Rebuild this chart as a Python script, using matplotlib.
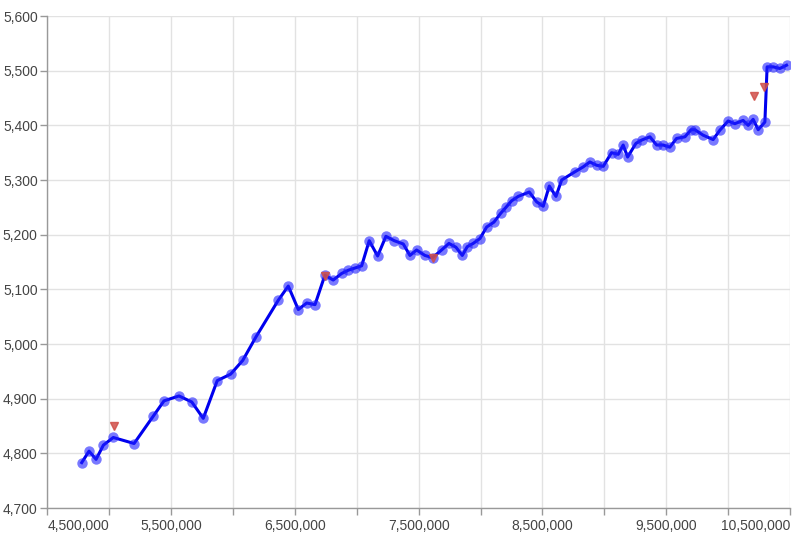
import matplotlib.pyplot as plt
from matplotlib.ticker import FuncFormatter, MultipleLocator

# データ
x_values = [
    4777000, 4836000, 4893000, 4952000, 5032000, 5200000, 5355000, 5442000,
    5563000, 5666000, 5759000, 5872000, 5981000, 6078000, 6185000, 6365000,
    6446000, 6527000, 6595000, 6662000, 6742000, 6809000, 6877000, 6931000,
    6985000, 7039000, 7100000, 7168000, 7235000, 7302000, 7375000, 7429000,
    7483000, 7550000, 7612000, 7685000, 7744000, 7801000, 7852000, 7892000,
    7940000, 7995000, 8049000, 8108000, 8162000, 8205000, 8251000, 8304000,
    8393000, 8453000, 8506000, 8555000, 8609000, 8655000, 8762000, 8829000,
    8883000, 8937000, 8991000, 9058000, 9112000, 9152000, 9188000, 9255000,
    9301000, 9368000, 9422000, 9475000, 9529000, 9583000, 9651000, 9701000,
    9731000, 9798000, 9879000, 9933000, 10000000, 10054000, 10121000, 10162000,
    10202000, 10243000, 10297000, 10315000, 10364000, 10418000, 10472000,
]
y_values = [
    4783, 4804, 4789, 4815, 4829, 4818, 4868, 4896,
    4905, 4894, 4864, 4933, 4945, 4970, 5013, 5080,
    5106, 5063, 5075, 5072, 5126, 5117, 5129, 5135,
    5139, 5143, 5189, 5161, 5197, 5189, 5183, 5162,
    5172, 5162, 5158, 5172, 5184, 5177, 5162, 5178,
    5184, 5193, 5214, 5223, 5239, 5250, 5262, 5270,
    5278, 5260, 5252, 5289, 5270, 5300, 5315, 5324,
    5333, 5327, 5325, 5350, 5347, 5364, 5342, 5367,
    5373, 5379, 5364, 5364, 5360, 5376, 5379, 5392,
    5392, 5382, 5374, 5391, 5408, 5403, 5409, 5400,
    5411, 5392, 5406, 5507, 5507, 5504, 5510,
]

# 赤い三角マーカー
marker_x = [5038000, 6742000, 7612000, 10207000, 10288000]
marker_y = [4850, 5125, 5158, 5453, 5470]

x_min, x_max = 4500000, 10500000
y_min, y_max = 4700, 5600
x_labels = [4500000, 5500000, 6500000, 7500000, 8500000, 9500000, 10500000]


def main() -> None:
    plt.rcParams['font.family'] = ['Liberation Sans', 'DejaVu Sans']

    fig = plt.figure(figsize=(8, 5.39), dpi=100)
    ax = fig.add_axes([0.0593, 0.0575, 0.9282, 0.9128])

    # 折れ線と点
    ax.plot(x_values, y_values, color='#0000ee', linewidth=2.2, zorder=3)
    ax.plot(x_values, y_values, linestyle='none', marker='o', markersize=7.5,
            markerfacecolor='#2020ff', markeredgecolor='none', alpha=0.6, zorder=4)
    ax.plot(marker_x, marker_y, linestyle='none', marker='v', markersize=6,
            color='#d0504a', alpha=0.85, zorder=5)

    ax.set_xlim(x_min, x_max)
    ax.set_ylim(y_min, y_max)

    # 軸・グリッド
    ax.xaxis.set_major_locator(MultipleLocator(500000))
    ax.yaxis.set_major_locator(MultipleLocator(100))
    ax.grid(True, color='#e2e2e2', linewidth=1.0, zorder=0)
    ax.set_axisbelow(True)

    for side in ['top', 'right']:
        ax.spines[side].set_visible(False)
    for side in ['left', 'bottom']:
        ax.spines[side].set_color('#999999')
        ax.spines[side].set_linewidth(1.0)

    ax.tick_params(axis='both', colors='#999999', length=5, width=1.0,
                   labelcolor='#444444', labelsize=10)

    def x_fmt(v, pos):
        if int(round(v)) in x_labels:
            return f"{int(round(v)):,}"
        return ""

    ax.xaxis.set_major_formatter(FuncFormatter(x_fmt))
    ax.yaxis.set_major_formatter(FuncFormatter(lambda v, pos: f"{int(round(v)):,}"))
    ax.tick_params(axis='y', pad=2)
    ax.tick_params(axis='x', pad=3)

    fig.canvas.draw()
    xt = ax.get_xticklabels()
    labelled = [t for t in xt if t.get_text()]
    if labelled:
        labelled[0].set_horizontalalignment('left')
        labelled[-1].set_horizontalalignment('right')

    fig.savefig("out.png", dpi=100)


if __name__ == "__main__":
    main()
